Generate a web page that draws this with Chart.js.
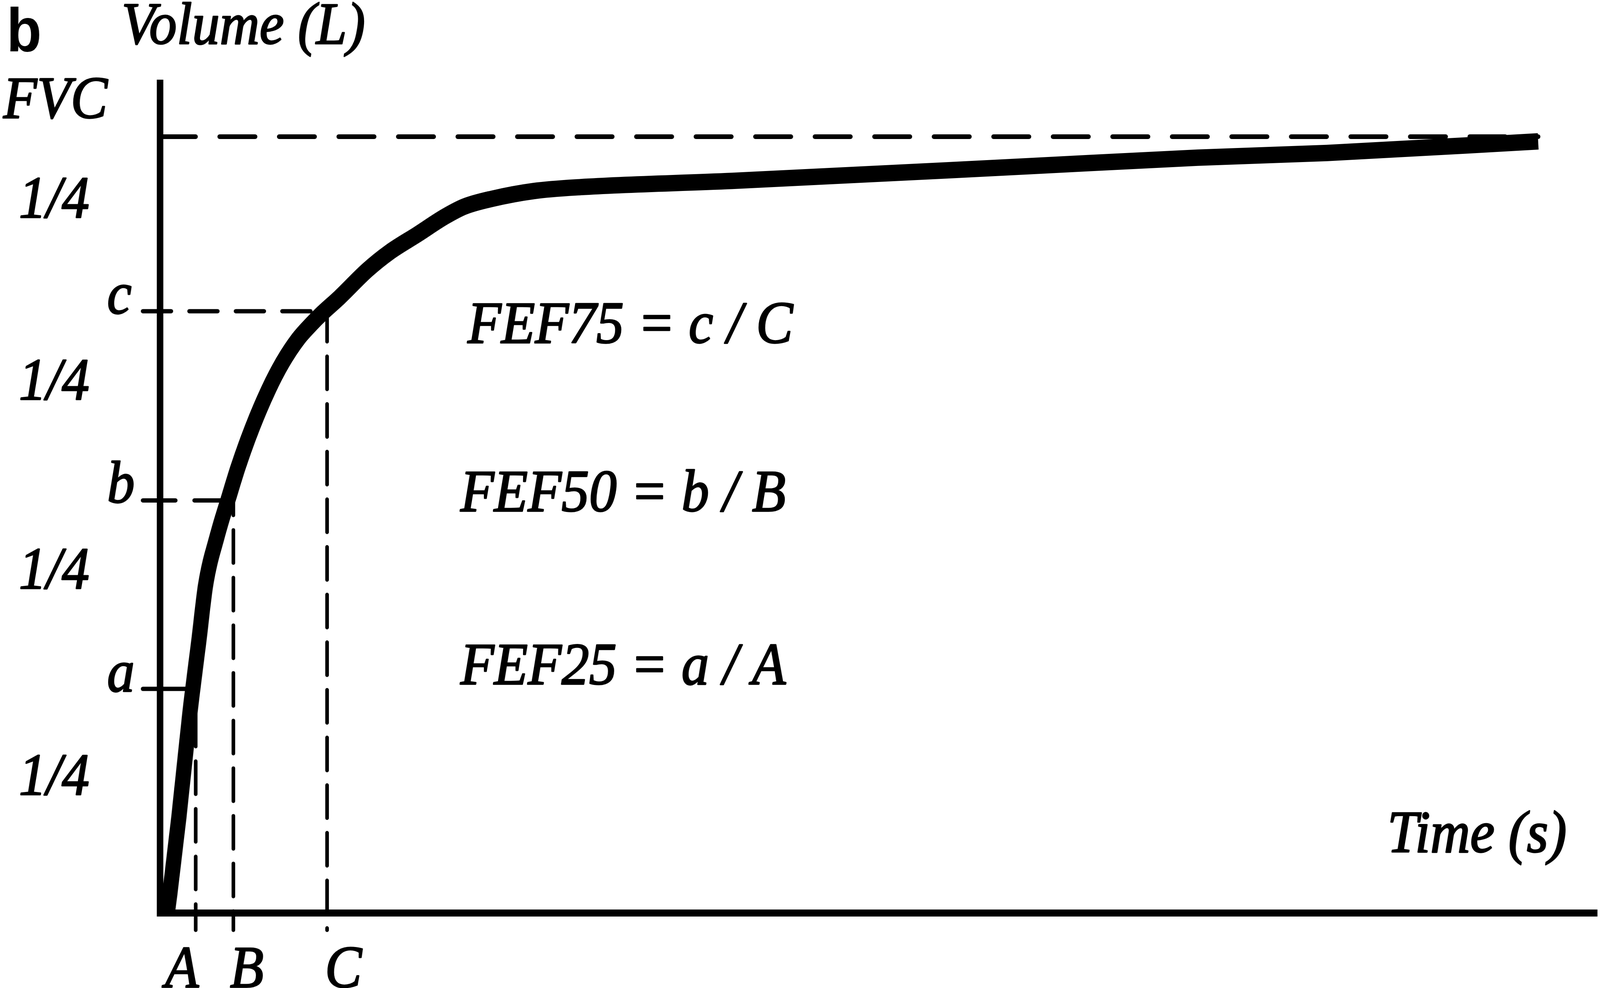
<!DOCTYPE html>
<html>
<head>
<meta charset="utf-8">
<script src="https://cdn.jsdelivr.net/npm/chart.js@4.4.1/dist/chart.umd.min.js"></script>
<style>
  html, body { margin: 0; padding: 0; overflow: hidden; background: #fff; }
</style>
</head>
<body>
<canvas id="chart" width="4408" height="2530" style="display:block;width:100vw;height:100vh"></canvas>
<script>
// Volume-time curve (time in arbitrary units, volume in % of FVC)
const timeS = [0.05, 0.068, 0.131, 0.207, 0.273, 0.316, 0.399, 0.478, 0.543, 0.64,
  0.755, 0.853, 0.96, 1.056, 1.114, 1.25, 1.442, 1.596, 1.791, 1.983,
  2.119, 2.311, 2.602, 2.927, 3.98, 6.05, 7.22, 8.12, 9.59];
const volume = [0, 2.5, 12.4, 25.7, 35.6, 42.2, 48.7, 53.6, 57.5, 62.5,
  67.5, 71.0, 74.0, 76.0, 77.1, 79.4, 82.9, 85.2, 87.5, 89.8,
  91.1, 92.1, 93.1, 93.6, 94.4, 96.3, 97.4, 98.0, 99.5];

const fvcLevel = 100.1;
const levelNames = ["a", "b", "c"];
const levelValues = [28.9, 53.2, 77.6];
const markNames = ["A", "B", "C"];
const markTimes = [0.248, 0.51, 1.162];
const formulas = ["FEF25 = a / A", "FEF50 = b / B", "FEF75 = c / C"];

// layout / style
const SERIF = 'italic 152px "Liberation Serif"';
const formulaAnchors = [[2.09, 29.5], [2.09, 51.8], [2.14, 73.5]];
const markShift = [-38, 37, 45];
const levelDash = [[], [90, 52], [78, 50]];

function timeAtVolume(v) {
  for (let i = 0; i < volume.length - 1; i++) {
    if (v >= volume[i] && v <= volume[i + 1]) {
      const f = (v - volume[i]) / (volume[i + 1] - volume[i]);
      return timeS[i] + f * (timeS[i + 1] - timeS[i]);
    }
  }
  return timeS[timeS.length - 1];
}

function volumeAtTime(t) {
  for (let i = 0; i < timeS.length - 1; i++) {
    if (t >= timeS[i] && t <= timeS[i + 1]) {
      const f = (t - timeS[i]) / (timeS[i + 1] - timeS[i]);
      return volume[i] + f * (volume[i + 1] - volume[i]);
    }
  }
  return volume[volume.length - 1];
}

function refLine(points, dash, width) {
  return {
    data: points,
    borderColor: "#000",
    borderWidth: width,
    borderDash: dash,
    borderCapStyle: "round",
    pointRadius: 0,
    tension: 0,
    clip: false,
    order: 2
  };
}

const datasets = [
  {
    data: timeS.map((t, i) => ({ x: t, y: volume[i] })),
    borderColor: "#000",
    borderWidth: 42,
    borderJoinStyle: "round",
    pointRadius: 0,
    cubicInterpolationMode: "monotone",
    clip: false,
    order: 0
  },
  refLine([{ x: 0, y: fvcLevel }, { x: timeS[timeS.length - 1], y: fvcLevel }], [98, 66], 12)
];

levelValues.forEach((v, i) => {
  datasets.push(refLine([{ x: -0.12, y: v }, { x: timeAtVolume(v), y: v }], levelDash[i], 11));
});

markTimes.forEach((t) => {
  datasets.push(refLine([{ x: t, y: volumeAtTime(t) }, { x: t, y: -2.2 }], [84, 38], 10));
});

// text drawn a little heavier, like the scanned figure
function heavyText(ctx, text, x, y) {
  ctx.strokeText(text, x, y);
  ctx.fillText(text, x, y);
}

const labelPlugin = {
  id: "figureLabels",
  afterDatasetsDraw(chart) {
    const { ctx, scales: { x, y } } = chart;
    ctx.save();
    ctx.fillStyle = "#000";
    ctx.strokeStyle = "#000";
    ctx.lineWidth = 3.5;
    ctx.lineJoin = "round";
    ctx.textBaseline = "alphabetic";
    ctx.textAlign = "left";

    ctx.font = 'bold 158px "Liberation Sans"';
    ctx.fillText("b", 18, 131);

    ctx.font = SERIF;
    heavyText(ctx, "Volume (L)", 335, 112);
    heavyText(ctx, "FVC", 9, y.getPixelForValue(fvcLevel) - 48);

    // quarter marks between the levels
    const bands = [0, ...levelValues, fvcLevel];
    for (let i = 0; i < bands.length - 1; i++) {
      const mid = (bands[i] + bands[i + 1]) / 2;
      heavyText(ctx, "1/4", 52, y.getPixelForValue(mid) - 16);
    }

    levelNames.forEach((n, i) => {
      heavyText(ctx, n, 295, y.getPixelForValue(levelValues[i]) + 6);
    });

    formulas.forEach((f, i) => {
      const [fx, fy] = formulaAnchors[i];
      heavyText(ctx, f, x.getPixelForValue(fx), y.getPixelForValue(fy));
    });

    heavyText(ctx, "Time (s)", 3822, 2182);

    ctx.textAlign = "center";
    markNames.forEach((n, i) => {
      heavyText(ctx, n, x.getPixelForValue(markTimes[i]) + markShift[i], 2528);
    });
    ctx.restore();
  }
};

new Chart(document.getElementById("chart"), {
  type: "line",
  data: { datasets: datasets },
  options: {
    responsive: false,
    animation: false,
    devicePixelRatio: 1,
    layout: { padding: { left: 441, right: 8, top: 213, bottom: 192 } },
    plugins: {
      legend: { display: false },
      tooltip: { enabled: false }
    },
    scales: {
      x: {
        type: "linear",
        min: 0,
        max: 10,
        grid: { display: false, drawTicks: false },
        ticks: { display: false },
        border: { display: true, width: 18, color: "#000" }
      },
      y: {
        type: "linear",
        min: 0,
        max: 107,
        grid: { display: false, drawTicks: false },
        ticks: { display: false },
        border: { display: true, width: 18, color: "#000" }
      }
    }
  },
  plugins: [labelPlugin]
});
</script>
</body>
</html>
